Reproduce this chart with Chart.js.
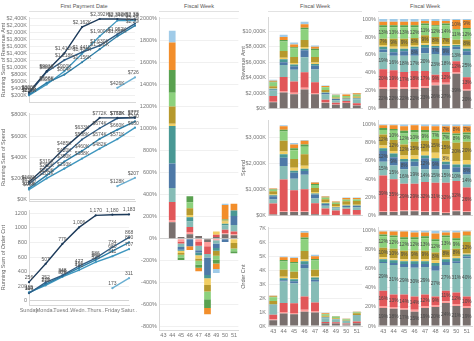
<!DOCTYPE html>
<html>
<head>
<meta charset="utf-8">
<script src="https://cdn.jsdelivr.net/npm/chart.js@4.4.1/dist/chart.umd.min.js"></script>
<style>
  body { margin: 0; background: #fff; width: 474px; height: 341px; overflow: hidden; position: relative;
         font-family: Arial, 'Liberation Sans', sans-serif; }
  canvas { position: absolute; }
  .hdr { position: absolute; top: 0; height: 11px; line-height: 12px; font-size: 5.5px; color: #555;
         text-align: center; border-bottom: 1px solid #e2e2e2; }
</style>
</head>
<body>
<div class="hdr" style="left:29px;width:110px">First Payment Date</div>
<div class="hdr" style="left:159px;width:80px">Fiscal Week</div>
<div class="hdr" style="left:268px;width:94px">Fiscal Week</div>
<div class="hdr" style="left:378px;width:94px">Fiscal Week</div>
<script>
// Cohort dashboard: running sums by weekday (left), week-over-week % change (middle),
// weekly totals by segment (stacked) and the same as share of week (100% stacked).

if (typeof Chart !== 'undefined') Chart.defaults.animation = false;
Chart.defaults.font.family = "Arial, 'Liberation Sans', sans-serif";
Chart.defaults.font.size = 5.5;
Chart.defaults.color = '#777';

const DAYS = ['Sunday', 'Monda..', 'Tuesd..', 'Wedn..', 'Thurs..', 'Friday', 'Satur..'];
const WEEKS = ['43', '44', '45', '46', '47', '48', '49', '50', '51'];

// running sum of revenue ($K), one array per first-payment cohort
const revRun1 = [300, 901, 1412, 2162, 2392, 2392, 2380];
const revRun2 = [260, 880, 1218, 1441, 1630, 1952, 2260];
const revRun3 = [230, 566, 804, 1156, 1528, 1897, 2200];
const revRun4 = [210, 520, 900, 1400, 1900, 2346, 2346];
const revRun5 = [null, null, null, null, null, 426, 726];

// running sum of spend ($K)
const spendRun1 = [168, 319, 485, 633, 772, 772, 772];
const spendRun2 = [150, 280, 420, 568, 674, 768, 777];
const spendRun3 = [110, 230, 360, 460, 574, 660, 740];
const spendRun4 = [96, 201, 293, 388, 482, 571, 680];
const spendRun5 = [null, null, null, null, null, 128, 207];

// running sum of order count
const orderRun1 = [256, 507, 779, 1006, 1170, 1180, 1183];
const orderRun2 = [104, 252, 348, 477, 586, 734, 868];
const orderRun3 = [110, 230, 340, 450, 560, 680, 800];
const orderRun4 = [115, 213, 328, 421, 529, 611, 707];
const orderRun5 = [null, null, null, null, null, 173, 311];

const COHORT_COLORS = ['#1d3b5b', '#2f5d85', '#2d7fa8', '#3f97bf', '#6aafd2'];

const revTicks = [200, 400, 600, 800, 1000, 1200, 1400, 1600, 1800, 2000, 2200, 2400];
const spendTicks = [0, 200, 400, 600, 800];
const orderTicks = [0, 200, 400, 600, 800, 1000, 1200];

// segments, stacked bottom to top
const SEG_COLORS = ['#79706e', '#ff9d9a', '#e15759', '#86bcb6', '#4e79a7', '#499894',
                    '#f1ce63', '#b6992d', '#8cd17d', '#59a14f', '#f28e2b', '#a0cbe8'];

// week-over-week % change per segment (weeks 43..51)
const chgGrey   = [0, 148, 15, 40, 24, -30, 15, 40, 30];
const chgPink   = [0, 21, -25, 20, -30, -40, -15, 10, 10];
const chgRed    = [0, 163, -20, 45, -35, -70, 20, 30, 25];
const chgLTeal  = [0, 127, -30, 50, -40, -30, -30, 40, 60];
const chgBlue   = [0, 224, -25, -70, -20, -160, -40, -30, 80];
const chgTeal   = [0, 339, -10, 40, -25, -30, -25, 15, 50];
const chgYellow = [0, 20, -20, 20, -30, -60, 30, 20, -40];
const chgOlive  = [0, 158, -15, 60, -20, -60, -45, 10, -50];
const chgLGreen = [0, 125, -25, 55, -35, -70, -35, 5, -25];
const chgGreen  = [0, 206, -23, 55, -30, -80, -36, 5, -18];
const chgOrange = [0, 250, 0, -34, -31, -57, -50, 130, 62];
const chgLBlue  = [0, 107, 0, 0, 0, 0, -35, 12, 0];
const chgTicks = [-800, -600, -400, -200, 0, 200, 400, 600, 800, 1000, 1200, 1400, 1600, 1800, 2000];

// weekly totals
const revTotal = [3730, 9540, 8540, 11240, 8150, 3000, 1850, 1850, 2030];   // $K
const spendTotal = [1050, 3450, 2770, 2890, 1290, 750, 550, 690, 690];      // $K
const orderTotal = [2.19, 4.97, 4.92, 6.81, 5.10, 0.95, 0.72, 0.53, 1.04];  // K

// share of week (%) per segment — revenue
const revGrey   = [22, 22, 22, 22, 23, 26, 27, 39, 20];
const revPink   = [2, 2, 2, 2, 2, 3, 2, 2, 2];
const revRed    = [20, 19, 17, 18, 17, 9, 12, 12, 13];
const revLTeal  = [19, 16, 18, 17, 20, 23, 18, 13, 25];
const revBlue   = [3, 4, 5, 8, 6, 7, 9, 3, 4];
const revTeal   = [3, 4, 3, 2, 3, 2, 2, 2, 3];
const revYellow = [2, 2, 2, 2, 2, 2, 2, 1, 2];
const revOlive  = [7, 9, 9, 8, 9, 8, 7, 5, 8];
const revLGreen = [13, 13, 13, 12, 11, 12, 14, 11, 12];
const revGreen  = [2, 2, 2, 2, 2, 1, 2, 1, 1];
const revOrange = [4, 4, 4, 4, 3, 5, 3, 10, 9];
const revLBlue  = [3, 3, 3, 3, 2, 2, 2, 1, 1];

// share of week (%) — spend
const spGrey   = [4, 4, 5, 5, 4, 4, 3, 5, 4];
const spPink   = [1, 1, 1, 1, 1, 1, 1, 1, 1];
const spRed    = [39, 35, 29, 29, 32, 31, 32, 32, 26];
const spLTeal  = [15, 15, 16, 19, 14, 15, 15, 10, 14];
const spBlue   = [12, 9, 8, 5, 12, 9, 5, 5, 8];
const spTeal   = [3, 4, 3, 3, 3, 3, 3, 3, 3];
const spYellow = [3, 3, 4, 4, 4, 6, 8, 4, 5];
const spOlive  = [12, 12, 12, 15, 12, 15, 15, 20, 20];
const spLGreen = [5, 10, 12, 10, 9, 7, 7, 8, 8];
const spGreen  = [2, 2, 3, 3, 3, 2, 2, 2, 2];
const spOrange = [3, 4, 5, 5, 4, 5, 7, 8, 7];
const spLBlue  = [1, 1, 2, 1, 2, 2, 2, 2, 2];

// share of week (%) — order count
const ocGrey   = [19, 18, 17, 15, 19, 20, 24, 21, 19];
const ocPink   = [2, 2, 2, 2, 2, 2, 2, 2, 2];
const ocRed    = [16, 13, 14, 14, 12, 9, 11, 12, 10];
const ocLTeal  = [29, 31, 29, 30, 29, 27, 27, 31, 40];
const ocBlue   = [1, 2, 3, 4, 3, 5, 3, 2, 2];
const ocTeal   = [3, 3, 3, 3, 3, 3, 3, 3, 2];
const ocYellow = [2, 2, 2, 2, 2, 3, 2, 2, 1];
const ocOlive  = [10, 10, 9, 9, 9, 8, 8, 8, 12];
const ocLGreen = [12, 12, 12, 12, 13, 12, 13, 9, 6];
const ocGreen  = [2, 2, 2, 2, 2, 2, 2, 2, 1];
const ocOrange = [3, 4, 6, 5, 4, 6, 3, 6, 4];
const ocLBlue  = [1, 1, 1, 2, 2, 3, 2, 2, 1];

const revTotTicks = [0, 2000, 4000, 6000, 8000, 10000];
const spendTotTicks = [0, 1000, 2000, 3000];
const orderTotTicks = [0, 1, 2, 3, 4, 5, 6, 7];
const shareTicks = [0, 20, 40, 60, 80, 100];

const kFmt = v => '$' + Math.round(v).toLocaleString('en-US') + 'K';
const pctFmt = v => v + '%';

function box(x, y, w, h) {
  const c = document.createElement('canvas');
  c.width = w; c.height = h;
  c.style.left = x + 'px'; c.style.top = y + 'px';
  c.style.width = w + 'px'; c.style.height = h + 'px';
  document.body.appendChild(c);
  return c;
}

function yAxis(width, ticks, fmt, min, max, title, stacked) {
  return {
    min, max, stacked: !!stacked,
    afterFit: s => { s.width = width; },
    afterBuildTicks: s => { s.ticks = ticks.map(v => ({ value: v })); },
    ticks: { callback: fmt, padding: 2, color: '#777', autoSkip: false },
    grid: { color: c => (c.tick && c.tick.value === 0 ? '#d4d4d4' : '#f0f0f0'), drawTicks: false },
    border: { color: '#d8d8d8' },
    title: title
      ? { display: true, text: title, color: '#666', font: { size: 5.5 }, padding: { top: 0, bottom: 1 } }
      : { display: false },
  };
}

function xAxis(show, stacked) {
  return {
    stacked: !!stacked,
    afterFit: s => { s.height = show ? 10 : 0; },
    ticks: { display: show, padding: 2, color: '#777', maxRotation: 0, autoSkip: false },
    grid: { display: false, drawTicks: false },
    border: { color: '#d8d8d8' },
  };
}

// value labels above each point of the running-sum lines
const pointLabels = {
  id: 'pointLabels',
  afterDatasetsDraw(chart, args, opts) {
    const { ctx } = chart;
    ctx.save();
    ctx.font = "5px Arial, 'Liberation Sans', sans-serif";
    ctx.fillStyle = '#555';
    ctx.textAlign = 'center';
    ctx.textBaseline = 'bottom';
    chart.data.datasets.forEach((ds, i) => {
      chart.getDatasetMeta(i).data.forEach((pt, j) => {
        const v = ds.data[j];
        if (v == null) return;
        ctx.fillText(opts.fmt(v), pt.x, pt.y - 2);
      });
    });
    ctx.restore();
  },
};

// percent labels on the larger segments of the 100% bars
const shareLabels = {
  id: 'shareLabels',
  afterDatasetsDraw(chart) {
    const { ctx } = chart;
    ctx.save();
    ctx.font = "4.8px Arial, 'Liberation Sans', sans-serif";
    ctx.fillStyle = '#4a4a4a';
    ctx.textAlign = 'center';
    ctx.textBaseline = 'middle';
    chart.data.datasets.forEach((ds, i) => {
      chart.getDatasetMeta(i).data.forEach((bar, j) => {
        const v = ds.data[j];
        if (v < 7) return;
        ctx.fillText(Math.round(v) + '%', bar.x, (bar.y + bar.base) / 2);
      });
    });
    ctx.restore();
  },
};

function runningChart(x, y, w, h, pad, series, ticks, tickFmt, labelFmt, min, max, title, showDays) {
  return new Chart(box(x, y, w, h), {
    type: 'line',
    data: {
      labels: DAYS,
      datasets: series.map((d, i) => ({
        data: d, borderColor: COHORT_COLORS[i], backgroundColor: COHORT_COLORS[i],
        borderWidth: 1.4, pointRadius: 1.1, pointBorderWidth: 0, tension: 0,
      })),
    },
    options: {
      responsive: false, maintainAspectRatio: false,
      layout: { padding: pad },
      plugins: { legend: { display: false }, tooltip: { enabled: false }, pointLabels: { fmt: labelFmt } },
      scales: { x: xAxis(showDays), y: yAxis(29, ticks, tickFmt, min, max, title) },
    },
    plugins: [pointLabels],
  });
}

function stackedChart(x, y, w, h, pad, axisW, rows, ticks, fmt, min, max, title, showWeeks, labelled) {
  return new Chart(box(x, y, w, h), {
    type: 'bar',
    data: {
      labels: WEEKS,
      datasets: rows.map((d, i) => ({
        data: d, backgroundColor: SEG_COLORS[i], borderWidth: 0,
        barPercentage: 0.8, categoryPercentage: 0.95,
      })),
    },
    options: {
      responsive: false, maintainAspectRatio: false,
      layout: { padding: pad },
      plugins: { legend: { display: false }, tooltip: { enabled: false } },
      scales: { x: xAxis(showWeeks, true), y: yAxis(axisW, ticks, fmt, min, max, title, true) },
    },
    plugins: labelled ? [shareLabels] : [],
  });
}

// segment values of a week = week total × share
const part = (total, share) => share.map((s, j) => total[j] * s / 100);

const revShares = [revGrey, revPink, revRed, revLTeal, revBlue, revTeal, revYellow, revOlive, revLGreen, revGreen, revOrange, revLBlue];
const spShares = [spGrey, spPink, spRed, spLTeal, spBlue, spTeal, spYellow, spOlive, spLGreen, spGreen, spOrange, spLBlue];
const ocShares = [ocGrey, ocPink, ocRed, ocLTeal, ocBlue, ocTeal, ocYellow, ocOlive, ocLGreen, ocGreen, ocOrange, ocLBlue];
const changes = [chgGrey, chgPink, chgRed, chgLTeal, chgBlue, chgTeal, chgYellow, chgOlive, chgLGreen, chgGreen, chgOrange, chgLBlue];

// left column: running sums by weekday
runningChart(0, 12, 139, 96, { top: 1, bottom: 1, right: 1 },
  [revRun1, revRun2, revRun3, revRun4, revRun5], revTicks, kFmt, kFmt, 0, 2440, 'Running Sum of Revenue Amt', false);
runningChart(0, 108, 139, 99, { top: 2, bottom: 2, right: 1 },
  [spendRun1, spendRun2, spendRun3, spendRun4, spendRun5], spendTicks, kFmt, kFmt, -18, 815, 'Running Sum of Spend', false);
runningChart(0, 205, 139, 110, { top: 2, bottom: 0, right: 1 },
  [orderRun1, orderRun2, orderRun3, orderRun4, orderRun5], orderTicks, v => String(v),
  v => v.toLocaleString('en-US'), -57, 1240, 'Running Sum of Order Cnt', true);

// middle column: week-over-week change, positive and negative parts stacked from zero
stackedChart(140, 12, 99, 329, { top: 0, bottom: 1, right: 0 }, 19, changes, chgTicks, pctFmt,
  -829, 2009, null, true, false);

// third column: weekly totals by segment
stackedChart(240, 12, 123, 102, { top: 1, bottom: 1, right: 1 }, 28,
  revShares.map(s => part(revTotal, s)), revTotTicks, kFmt, 0, 11800, 'Revenue Amt', false, false);
stackedChart(240, 115, 123, 106, { top: 2, bottom: 2, right: 1 }, 28,
  spShares.map(s => part(spendTotal, s)), spendTotTicks, kFmt, 0, 3640, 'Spend', false, false);
stackedChart(240, 222, 123, 119, { top: 2, bottom: 5, right: 1 }, 28,
  ocShares.map(s => part(orderTotal, s)), orderTotTicks, v => v + 'K', 0, 7.07, 'Order Cnt', true, false);

// right column: share of each week
stackedChart(363, 12, 111, 102, { top: 1, bottom: 1, right: 2 }, 15,
  revShares, shareTicks, pctFmt, 0, 102, null, false, true);
stackedChart(363, 115, 111, 106, { top: 2, bottom: 2, right: 2 }, 15,
  spShares, shareTicks, pctFmt, 0, 104.5, null, false, true);
stackedChart(363, 222, 111, 119, { top: 2, bottom: 5, right: 2 }, 15,
  ocShares, shareTicks, pctFmt, 0, 103.5, null, true, true);
</script>
</body>
</html>
